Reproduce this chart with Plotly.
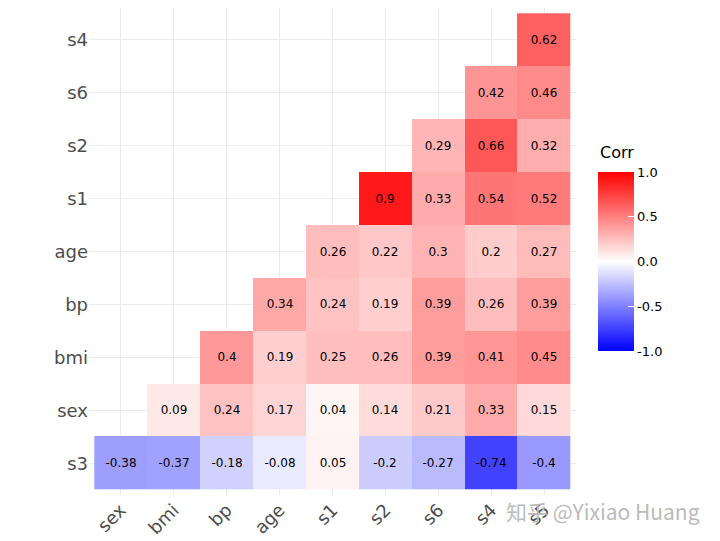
import plotly.graph_objects as go

x_labels = ["sex", "bmi", "bp", "age", "s1", "s2", "s6", "s4", "s5"]
y_labels = ["s3", "sex", "bmi", "bp", "age", "s1", "s2", "s6", "s4"]

N = None
row_s3 = [-0.38, -0.37, -0.18, -0.08, 0.05, -0.2, -0.27, -0.74, -0.4]
row_sex = [N, 0.09, 0.24, 0.17, 0.04, 0.14, 0.21, 0.33, 0.15]
row_bmi = [N, N, 0.4, 0.19, 0.25, 0.26, 0.39, 0.41, 0.45]
row_bp = [N, N, N, 0.34, 0.24, 0.19, 0.39, 0.26, 0.39]
row_age = [N, N, N, N, 0.26, 0.22, 0.3, 0.2, 0.27]
row_s1 = [N, N, N, N, N, 0.9, 0.33, 0.54, 0.52]
row_s2 = [N, N, N, N, N, N, 0.29, 0.66, 0.32]
row_s6 = [N, N, N, N, N, N, N, 0.42, 0.46]
row_s4 = [N, N, N, N, N, N, N, N, 0.62]

z = [row_s3, row_sex, row_bmi, row_bp, row_age, row_s1, row_s2, row_s6, row_s4]
text = [["" if v is None else f"{v:g}" for v in r] for r in z]

cb_ticks = [-1, -0.5, 0, 0.5, 1]
cb_text = ["-1.0", "-0.5", "0.0", "0.5", "1.0"]

W, H = 720, 541
L, R, T, B = 89, 144, 8, 46
PW, PH = W - L - R, H - T - B

fig = go.Figure(go.Heatmap(
    z=z, x=x_labels, y=y_labels, text=text, texttemplate="%{text}",
    textfont=dict(size=12, color="black", family="DejaVu Sans"),
    zmin=-1, zmax=1,
    colorscale=[[0, "#0000FF"], [0.5, "#FFFFFF"], [1, "#FF0000"]],
    hoverongaps=False,
    colorbar=dict(
        xref="paper", yref="paper",
        x=(598 - L) / PW, xanchor="left",
        y=(H - B - 261.5) / PH, yanchor="middle",
        len=199, lenmode="pixels", thickness=36, outlinewidth=0,
        ypad=10, xpad=0,
        tickvals=cb_ticks, ticktext=cb_text,
        ticks="inside", tickcolor="white", ticklen=6,
        tickfont=dict(size=13, color="black"),
    ),
))

fig.update_layout(
    width=W, height=H,
    margin=dict(l=L, r=R, t=T, b=B, autoexpand=False),
    paper_bgcolor="white", plot_bgcolor="white",
    font=dict(family="DejaVu Sans"),
    xaxis=dict(type="category", range=[-0.6, 8.6], showgrid=True, gridcolor="#EBEBEB",
               gridwidth=1, zeroline=False, showline=False, ticks="", tickangle=-45,
               automargin=False,
               tickfont=dict(size=18, color="#4D4D4D")),
    yaxis=dict(type="category", range=[-0.6, 8.6], showgrid=True, gridcolor="#EBEBEB",
               gridwidth=1, zeroline=False, showline=False, ticks="",
               automargin=False,
               tickfont=dict(size=18, color="#4D4D4D")),
    annotations=[
        dict(text="Corr", xref="paper", yref="paper",
             x=(598 - L) / PW, y=(H - B - 152) / PH,
             xanchor="left", yanchor="middle", showarrow=False,
             font=dict(size=16, color="black")),
        dict(text="知乎 @Yixiao Huang", xref="paper", yref="paper",
             x=(702 - L) / PW, y=(H - B - 511) / PH,
             xanchor="right", yanchor="middle", showarrow=False,
             font=dict(size=21, color="#BBBBBB", family="Noto Sans CJK SC")),
    ],
)

fig.write_html("out.html")
